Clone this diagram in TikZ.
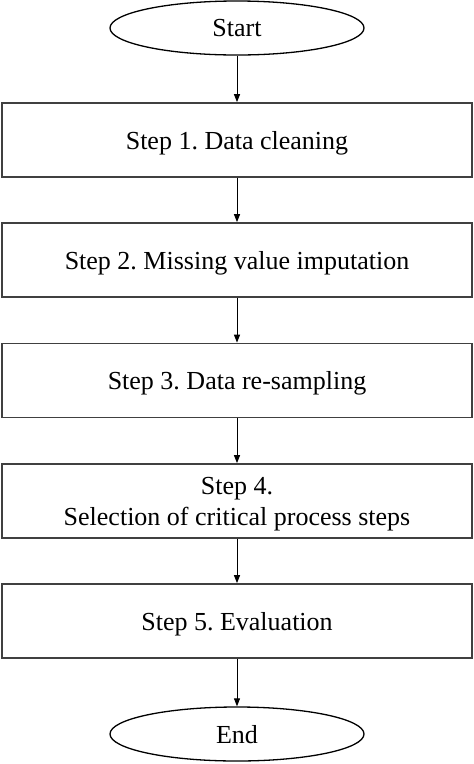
\documentclass[tikz,border=0pt]{standalone}
\usepackage{fontspec}
\setmainfont{Liberation Serif}
\usetikzlibrary{arrows.meta,shapes.geometric}
\frenchspacing
\begin{document}
\begin{tikzpicture}[x=1pt,y=-1pt,
  stepbox/.style={draw=black!75,line width=1.7pt,fill=white,minimum width=470pt,minimum height=74pt,inner sep=0pt,text depth=0pt,font=\fontsize{26}{31}\selectfont,align=center},
  term/.style={draw=black,line width=1.3pt,ellipse,minimum width=254pt,minimum height=54pt,inner sep=0pt,text depth=0pt,font=\fontsize{26}{30}\selectfont},
  conn/.style={line width=1pt,-{Triangle[length=8pt,width=6pt]}}]
\useasboundingbox (0,0) rectangle (474,764);
\node[term] (start) at (237,28) {Start};
\node[stepbox] (s1) at (237,140) {Step 1. Data cleaning};
\node[stepbox] (s2) at (237,260) {Step 2. Missing value imputation};
\node[stepbox] (s3) at (237,380.5) {Step 3. Data re-sampling};
\node[stepbox] (s4) at (237,501) {Step 4.\\Selection of critical process steps};
\node[stepbox] (s5) at (237,621) {Step 5. Evaluation};
\node[term] (end) at (237,734) {End};
\draw[conn] (start) -- (s1);
\draw[conn] (s1) -- (s2);
\draw[conn] (s2) -- (s3);
\draw[conn] (s3) -- (s4);
\draw[conn] (s4) -- (s5);
\draw[conn] (s5) -- (end);
\end{tikzpicture}
\end{document}
